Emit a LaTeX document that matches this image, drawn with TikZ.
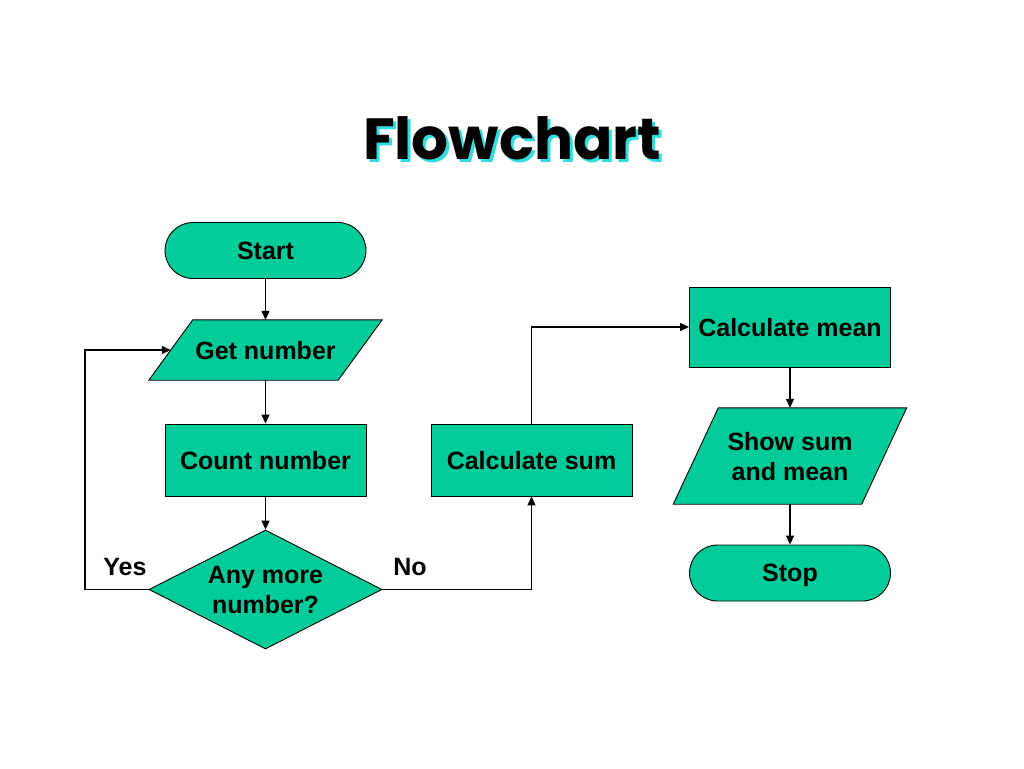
\documentclass[tikz,border=0pt]{standalone}
\usepackage{fontspec}
\setmainfont{Liberation Sans}
\newfontfamily\titlefont{Poppins}
\usetikzlibrary{shapes.geometric,arrows.meta,backgrounds}
\definecolor{boxgreen}{HTML}{00CC99}
\definecolor{shadowcyan}{HTML}{33DDDD}
\begin{document}
\begin{tikzpicture}[x=1pt,y=-1pt,
  lbl/.style={font=\fontsize{25}{30}\selectfont\bfseries,text depth=0pt},
  boxbase/.style={lbl,fill=boxgreen,draw=black,line width=0.9pt,inner sep=0pt,align=center},
  procbox/.style={boxbase,rectangle,minimum width=201pt,minimum height=72pt},
  termbox/.style={boxbase,rectangle,rounded corners=28pt,minimum width=201pt,minimum height=56pt},
  iobody/.style={lbl,rectangle,inner sep=0pt,align=center},
  iofill/.style={fill=boxgreen,draw=black,line width=0.9pt},
  decbox/.style={boxbase,diamond,aspect=2,minimum width=233pt,minimum height=119pt},
  conn/.style={draw=black,line width=1.3pt,-{Triangle[length=9pt,width=8pt]}}
]
\useasboundingbox (0,0) rectangle (1024,768);

% title
\node[font=\titlefont\fontsize{58}{60}\selectfont\bfseries,text=shadowcyan] (titleshadow) at (515,141) {Flowchart};
\node[font=\titlefont\fontsize{58}{60}\selectfont\bfseries,text=black] (title) at (512,138) {Flowchart};

% nodes
\node[termbox] (start) at (265.5,250.5) {Start};
\node[iobody,minimum width=189pt,minimum height=60pt] (get) at (265.5,350) {Get number};
\node[procbox] (count) at (265.5,460) {Count number};
\node[decbox] (dec) at (265.5,589.5) {Any more\\number?};
\node[procbox] (sum) at (531.5,460) {Calculate sum};
\node[procbox,minimum height=80pt] (mean) at (790,327) {Calculate mean};
\node[iobody,minimum width=188pt,minimum height=96pt] (show) at (790,456) {Show sum\\and mean};
\node[termbox] (stop) at (790,573) {Stop};

% white page and parallelogram outlines behind text
\begin{scope}[on background layer]
\fill[white] (0,0) rectangle (1024,768);
\filldraw[iofill] ([xshift=-22pt]get.south west) -- ([xshift=-22pt]get.south east)
  -- ([xshift=22pt]get.north east) -- ([xshift=22pt]get.north west) -- cycle;
\filldraw[iofill] ([xshift=-22.5pt]show.south west) -- ([xshift=-22.5pt]show.south east)
  -- ([xshift=22.5pt]show.north east) -- ([xshift=22.5pt]show.north west) -- cycle;
\end{scope}

% labels
\node[lbl] (yes) at (125,567) {Yes};
\node[lbl] (no) at (410,567) {No};

% connectors
\coordinate (loopA) at (85,589.5);
\coordinate (loopB) at (85,350);
\coordinate (sumcorner) at (531.5,589.5);
\coordinate (meancorner) at (531.5,327);
\draw[conn] (start.south) -- (get.north);
\draw[conn] (get.south) -- (count.north);
\draw[conn] (count.south) -- (dec.north);
\draw[conn] (dec.west) -- (loopA) -- (loopB) -- (get.west);
\draw[conn] (dec.east) -- (sumcorner) -- (sum.south);
\draw[conn] (sum.north) -- (meancorner) -- (mean.west);
\draw[conn] (mean.south) -- (show.north);
\draw[conn] (show.south) -- (stop.north);
\end{tikzpicture}
\end{document}
